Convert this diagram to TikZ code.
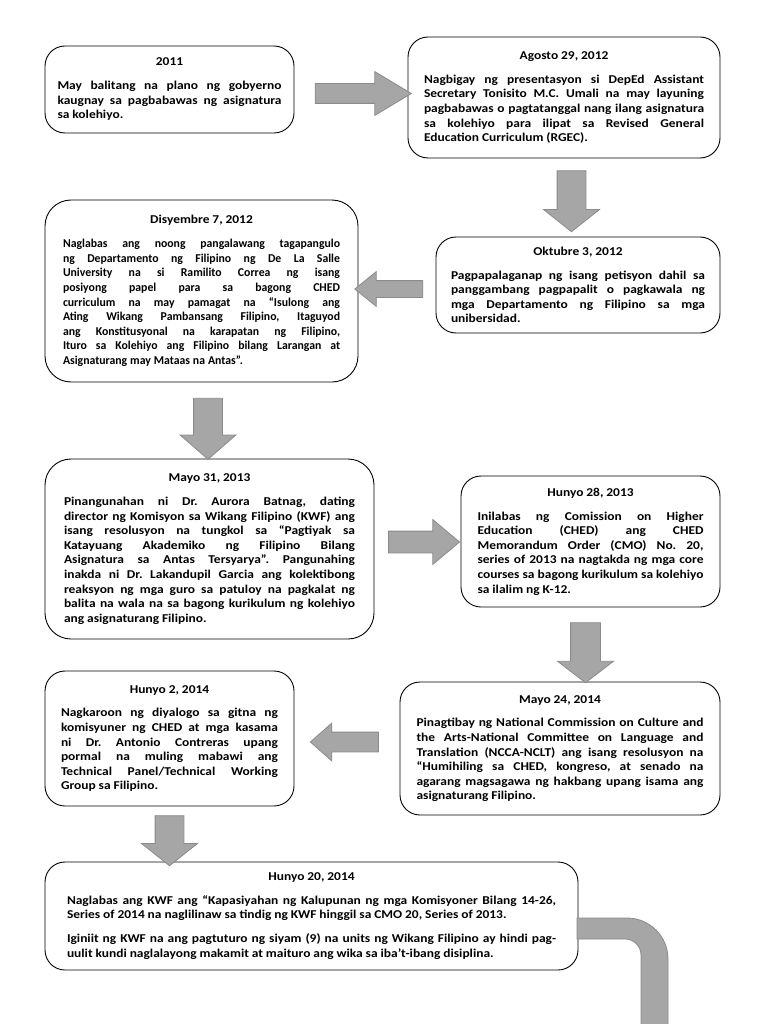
\documentclass[tikz,border=0pt]{standalone}
\usepackage{fontspec}
\setmainfont{Carlito}[FakeStretch=1.12]
\newfontfamily\schmal{Carlito}[FakeStretch=0.98]
\usetikzlibrary{shapes.arrows}
\definecolor{pfeilgrau}{HTML}{A6A6A6}
\definecolor{pfeilrand}{HTML}{8A8A8A}
\newcommand{\datum}[1]{{\centering #1\par}}
\tikzset{
    ereignis/.style={draw=black, line width=0.9pt, rounded corners=20pt, fill=white,
        align=justify, inner sep=0pt, font=\fontsize{12}{14.6}\selectfont\bfseries,
        execute at begin node={\setlength{\parindent}{0pt}\setlength{\parskip}{9.2pt}%
            \frenchspacing\spaceskip=2.9pt plus 8pt minus 1.6pt\relax}},
    pfeil/.style={single arrow, draw=pfeilrand, fill=pfeilgrau, line width=0.8pt,
        inner xsep=0pt, minimum width=0pt}
}

\begin{document}
\begin{tikzpicture}[x=1pt, y=-1pt]
  \useasboundingbox (0,0) rectangle (768,1024);

  % Kaesten
  \node[ereignis, minimum width=249, minimum height=87, text width=224] (b1) at (169.5,89.5)
    {\datum{2011}May balitang na plano ng gobyerno\linebreak kaugnay sa pagbabawas ng asignatura\linebreak sa kolehiyo.};
  \node[ereignis, minimum width=312, minimum height=121, text width=280] (b2) at (564,97.5)
    {\datum{Agosto 29, 2012}Nagbigay ng presentasyon si DepEd Assistant\linebreak Secretary Tonisito M.C. Umali na may layuning\linebreak pagbabawas o pagtatanggal nang ilang asignatura\linebreak sa kolehiyo para ilipat sa Revised General\linebreak Education Curriculum (RGEC).};
  \node[ereignis, minimum width=284, minimum height=96, text width=254] (b3) at (578,285)
    {\datum{Oktubre 3, 2012}Pagpapalaganap ng isang petisyon dahil sa\linebreak panggambang pagpapalit o pagkawala ng\linebreak mga Departamento ng Filipino sa mga\linebreak unibersidad.};
  \node[ereignis, minimum width=313, minimum height=182, text width=277, rounded corners=26pt] (b4) at (201.5,291)
    {\datum{Disyembre 7, 2012}\schmal Naglabas ang noong pangalawang tagapangulo\linebreak ng Departamento ng Filipino ng De La Salle\linebreak University na si Ramilito Correa ng isang\linebreak posiyong papel para sa bagong CHED\linebreak curriculum na may pamagat na “Isulong ang\linebreak Ating Wikang Pambansang Filipino, Itaguyod\linebreak ang Konstitusyonal na karapatan ng Filipino,\linebreak Ituro sa Kolehiyo ang Filipino bilang Larangan at\linebreak Asignaturang may Mataas na Antas”.};
  \node[ereignis, minimum width=329, minimum height=180, text width=291, rounded corners=26pt] (b5) at (209.5,549)
    {\datum{Mayo 31, 2013}Pinangunahan ni Dr. Aurora Batnag, dating\linebreak director ng Komisyon sa Wikang Filipino (KWF) ang\linebreak isang resolusyon na tungkol sa “Pagtiyak sa\linebreak Katayuang Akademiko ng Filipino Bilang\linebreak Asignatura sa Antas Tersyarya”. Pangunahing\linebreak inakda ni Dr. Lakandupil Garcia ang kolektibong\linebreak reaksyon ng mga guro sa patuloy na pagkalat ng\linebreak balita na wala na sa bagong kurikulum ng kolehiyo\linebreak ang asignaturang Filipino.};
  \node[ereignis, minimum width=259, minimum height=131, text width=226] (b6) at (590.5,541.5)
    {\datum{Hunyo 28, 2013}Inilabas ng Comission on Higher\linebreak Education (CHED) ang CHED\linebreak Memorandum Order (CMO) No. 20,\linebreak series of 2013 na nagtakda ng mga core\linebreak courses sa bagong kurikulum sa kolehiyo\linebreak sa ilalim ng K-12.};
  \node[ereignis, minimum width=249, minimum height=135, text width=217] (b7) at (169.5,738.5)
    {\datum{Hunyo 2, 2014}Nagkaroon ng diyalogo sa gitna ng\linebreak komisyuner ng CHED at mga kasama\linebreak ni Dr. Antonio Contreras upang\linebreak pormal na muling mabawi ang\linebreak Technical Panel/Technical Working\linebreak Group sa Filipino.};
  \node[ereignis, minimum width=320, minimum height=133, text width=287] (b8) at (560,748.5)
    {\datum{Mayo 24, 2014}Pinagtibay ng National Commission on Culture and\linebreak the Arts-National Committee on Language and\linebreak Translation (NCCA-NCLT) ang isang resolusyon na\linebreak “Humihiling sa CHED, kongreso, at senado na\linebreak agarang magsagawa ng hakbang upang isama ang\linebreak asignaturang Filipino.};
  \node[ereignis, minimum width=533, minimum height=108, text width=489] (b9) at (311.5,916)
    {\datum{Hunyo 20, 2014}Naglabas ang KWF ang “Kapasiyahan ng Kalupunan ng mga Komisyoner Bilang 14-26,\linebreak Series of 2014 na naglilinaw sa tindig ng KWF hinggil sa CMO 20, Series of 2013.\par
     Iginiit ng KWF na ang pagtuturo ng siyam (9) na units ng Wikang Filipino ay hindi pag-\linebreak uulit kundi naglalayong makamit at maituro ang wika sa iba’t-ibang disiplina.};

  % Pfeile
  \node[pfeil, minimum height=96, inner ysep=9.5pt, single arrow head extend=12pt, single arrow tip angle=62] (a1) at (355,93.5) {};
  \node[pfeil, rotate=-90, minimum height=61, inner ysep=14pt, single arrow head extend=13.5pt, single arrow tip angle=103] (a2) at (571.5,195.5) {};
  \node[pfeil, rotate=180, minimum height=68, inner ysep=8pt, single arrow head extend=9pt, single arrow tip angle=78] (a3) at (394,289) {};
  \node[pfeil, rotate=-90, minimum height=61, inner ysep=14pt, single arrow head extend=13.5pt, single arrow tip angle=98] (a4) at (208,422.5) {};
  \node[pfeil, minimum height=71, inner ysep=10.5pt, single arrow head extend=11.5pt, single arrow tip angle=80] (a5) at (417.5,542) {};
  \node[pfeil, rotate=-90, minimum height=60, inner ysep=14.5pt, single arrow head extend=13pt, single arrow tip angle=105] (a6) at (585.5,647) {};
  \node[pfeil, rotate=180, minimum height=68, inner ysep=9.5pt, single arrow head extend=9pt, single arrow tip angle=83] (a7) at (350,742) {};
  \node[pfeil, rotate=-90, minimum height=50, inner ysep=14pt, single arrow head extend=13.5pt, single arrow tip angle=103] (a8) at (169.5,835) {};

  % gebogener Pfeil
  \filldraw[draw=pfeilrand, fill=pfeilgrau, line width=0.8pt]
    (577,918) [rounded corners=41pt] -- (668,918) [sharp corners] -- (668,1026)
    -- (641,1026) [rounded corners=16pt] -- (641,939) [sharp corners] -- (577,939) -- cycle;

\end{tikzpicture}
\end{document}
